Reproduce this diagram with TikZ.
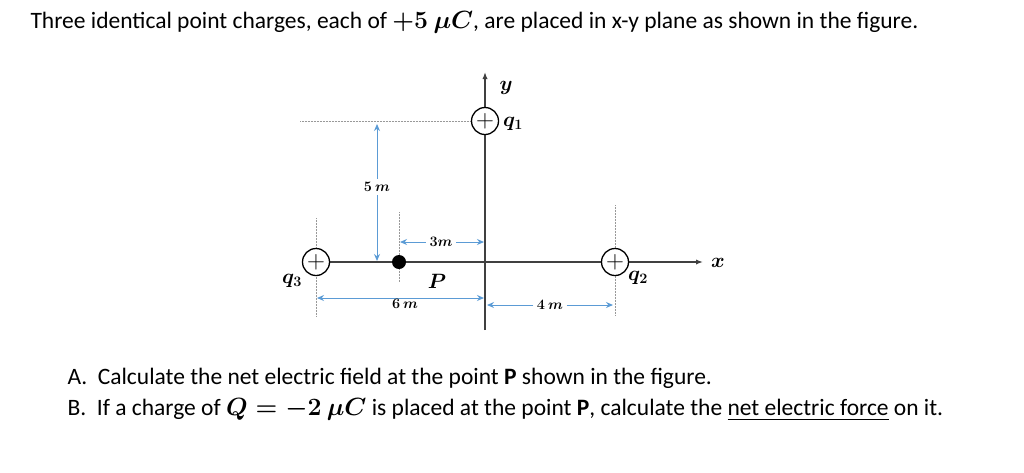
\documentclass[tikz,border=0pt]{standalone}
\usepackage{amsmath,bm}
\usepackage{fontspec}
\setmainfont{Carlito}
\usetikzlibrary{arrows.meta}
\definecolor{dimblue}{RGB}{91,155,213}
\begin{document}
\begin{tikzpicture}[x=1pt,y=-1pt,
 axis/.style={draw=black!75,line width=1.6pt},
 dimarr/.style={draw=dimblue,line width=1pt,-{Stealth[length=7pt,width=6pt]}},
 guide/.style={draw=black!40,densely dotted,line width=0.5pt},
 chg/.style={circle,draw,line width=1.3pt,minimum size=27pt,inner sep=0pt,fill=white,font=\fontsize{24}{24}\selectfont},
 lab/.style={font=\fontsize{14}{14}\selectfont\boldmath},
 big/.style={font=\fontsize{20}{20}\selectfont\boldmath},
 txt/.style={anchor=west,font=\fontsize{23.5}{28}\selectfont}]
\useasboundingbox (0,0) rectangle (1024,472);
\node[txt] (title) at (27,22) {Three identical point charges, each of {\boldmath$+5\ \mu C$}, are placed in x-y plane as shown in the figure.};
\node[txt] (qa) at (64,378) {A.\ \ Calculate the net electric field at the point \textbf{P} shown in the figure.};
\node[txt] (qb) at (64,410) {B.\ \ If a charge of {\boldmath$Q=-2\ \mu C$} is placed at the point \textbf{P}, calculate the \underline{net electric force} on it.};
% guides
\coordinate (g1) at (300,121);
\draw[guide] (g1) -- (472,121);
\coordinate (v3a) at (316,218); \coordinate (v3b) at (316,316);
\draw[guide] (v3a) -- (v3b);
\coordinate (vpa) at (399,212); \coordinate (vpb) at (399,282);
\draw[guide] (vpa) -- (vpb);
\coordinate (v2a) at (615,205); \coordinate (v2b) at (615,315);
\draw[guide] (v2a) -- (v2b);
% axes
\coordinate (ytop) at (485,72); \coordinate (ybot) at (485,330);
\coordinate (xl) at (330,262); \coordinate (xr) at (703,262);
\draw[axis,-{Latex[length=7pt]}] (ybot) -- (ytop);
\draw[axis,-{Latex[length=7pt]}] (xl) -- (xr);
\node[big] (ylab) at (506,88) {$y$};
\node[big] (xlab) at (718,263) {$x$};
% charges
\node[chg] (q1) at (485,121) {$+$};
\node[chg] (q2) at (615,262) {$+$};
\node[chg] (q3) at (316,262) {$+$};
\node[big] at (513,124) {$q_1$};
\node[big] at (638,278) {$q_2$};
\node[big] at (292,281) {$q_3$};
\node[circle,fill=black,minimum size=14pt,inner sep=0pt] (P) at (399,262) {};
\node[big] (Plab) at (437,281) {$P$};
% dimensions
\node[lab] (d5) at (377,187) {$5\ m$};
\coordinate (a5t) at (377,124); \coordinate (a5b) at (377,261);
\draw[dimarr] (d5.north) -- (a5t);
\draw[dimarr] (d5.south) -- (a5b);
\node[lab] (d3) at (441,242) {$3m$};
\coordinate (a3l) at (400,242); \coordinate (a3r) at (484,242);
\draw[dimarr] (d3.west) -- (a3l);
\draw[dimarr] (d3.east) -- (a3r);
\coordinate (a6l) at (317,298); \coordinate (a6r) at (484,298);
\draw[dimarr,{Stealth[length=7pt,width=6pt]}-{Stealth[length=7pt,width=6pt]}] (a6l) -- (a6r);
\node[lab] (d6) at (405,304) {$6\,m$};
\node[lab] (d4) at (550,305) {$4\ m$};
\coordinate (a4l) at (487,305); \coordinate (a4r) at (613,305);
\draw[dimarr] (d4.west) -- (a4l);
\draw[dimarr] (d4.east) -- (a4r);
\end{tikzpicture}
\end{document}
